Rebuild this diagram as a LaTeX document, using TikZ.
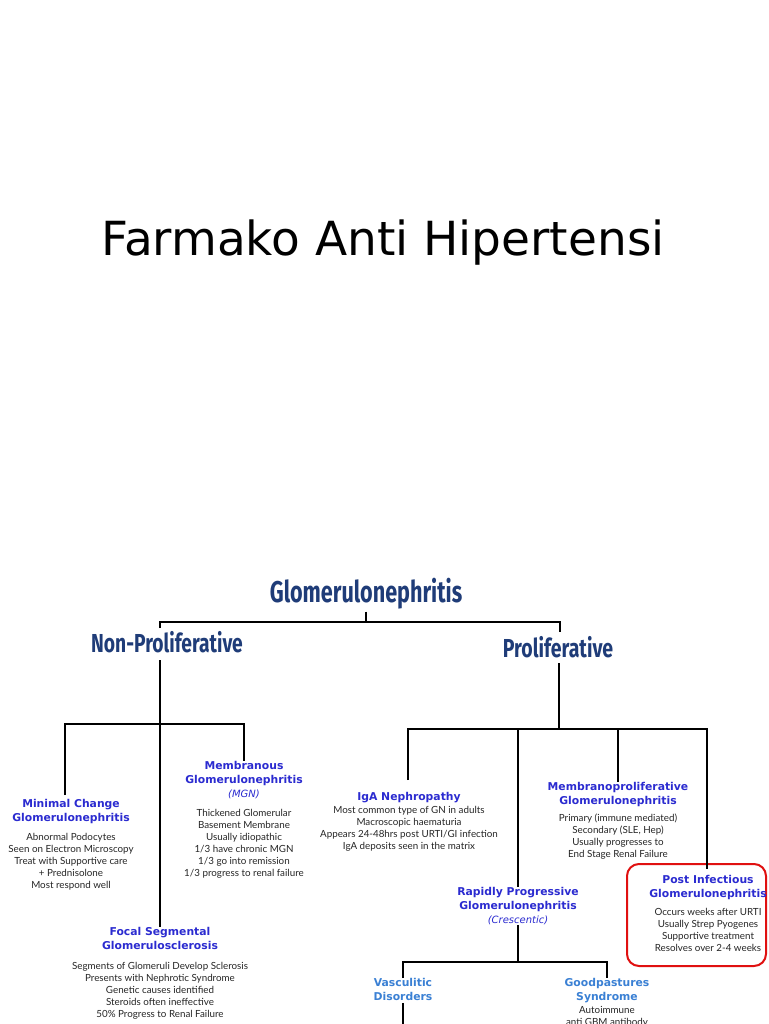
\documentclass[tikz,border=0pt]{standalone}
\usepackage{fontspec}
\setmainfont{Lato}
\newfontfamily\titlefont{DejaVu Sans}
\newfontfamily\headfont{DejaVu Sans}
\newfontfamily\bigfont{Fira Sans}
\usepackage{graphicx}
\definecolor{navy}{HTML}{1F3C78}
\definecolor{hblue}{HTML}{2B2BD0}
\definecolor{lblue}{HTML}{3A80D4}
\definecolor{boxred}{HTML}{E01010}
\begin{document}
\begin{tikzpicture}[x=1pt,y=-1pt,
  big/.style={inner sep=0,text=navy,font=\bigfont\bfseries\fontsize{30}{30}\selectfont},
  mid/.style={inner sep=0,text=navy,font=\bigfont\bfseries\fontsize{26}{26}\selectfont},
  head/.style={inner sep=0,align=center,text=hblue,font=\headfont\bfseries\fontsize{10.8}{14}\selectfont},
  lhead/.style={head,text=lblue},
  body/.style={inner sep=0,align=center,text=black!85,font=\fontsize{9.8}{12}\selectfont},
  link/.style={line width=1.3pt}]
\useasboundingbox (0,0) rectangle (768,1024);
\fill[white] (0,0) rectangle (768,1024);
\node[inner sep=0,font=\titlefont\fontsize{47}{47}\selectfont] (title) at (383,243) {Farmako Anti Hipertensi};

\node[big] (gn) at (366,594) {\scalebox{0.72}[1]{Glomerulonephritis}};
\node[mid] (np) at (167,642) {\scalebox{0.74}[1]{Non-Proliferative}};
\node[mid] (pr) at (558,647) {\scalebox{0.75}[1]{Proliferative}};

\node[head,anchor=north] (mc) at (71,799) {Minimal Change\\Glomerulonephritis};
\node[body,anchor=north] (mcb) at (71,833) {Abnormal Podocytes\\Seen on Electron Microscopy\\Treat with Supportive care\\+ Prednisolone\\Most respond well};
\node[head,anchor=north] (mg) at (244,761) {Membranous\\Glomerulonephritis\\{\mdseries\itshape\fontsize{10}{14}\selectfont (MGN)}};
\node[body,anchor=north] (mgb) at (244,809) {Thickened Glomerular\\Basement Membrane\\Usually idiopathic\\1/3 have chronic MGN\\1/3 go into remission\\1/3 progress to renal failure};
\node[head,anchor=north] (fs) at (160,927) {Focal Segmental\\Glomerulosclerosis};
\node[body,anchor=north] (fsb) at (160,962) {Segments of Glomeruli Develop Sclerosis\\Presents with Nephrotic Syndrome\\Genetic causes identified\\Steroids often ineffective\\50\% Progress to Renal Failure};

\node[head,anchor=north] (iga) at (409,792) {IgA Nephropathy};
\node[body,anchor=north] (igab) at (409,806) {Most common type of GN in adults\\Macroscopic haematuria\\Appears 24-48hrs post URTI/GI infection\\IgA deposits seen in the matrix};
\node[head,anchor=north] (mp) at (618,782) {Membranoproliferative\\Glomerulonephritis};
\node[body,anchor=north] (mpb) at (618,814) {Primary (immune mediated)\\Secondary (SLE, Hep)\\Usually progresses to\\End Stage Renal Failure};
\draw[boxred,line width=2pt,rounded corners=12pt] (627,864) rectangle (766,966);
\node[head,anchor=north] (pi) at (708,875) {Post Infectious\\Glomerulonephritis};
\node[body,anchor=north] (pib) at (708,908) {Occurs weeks after URTI\\Usually Strep Pyogenes\\Supportive treatment\\Resolves over 2-4 weeks};
\node[head,anchor=north] (rp) at (518,887) {Rapidly Progressive\\Glomerulonephritis\\{\mdseries\itshape\fontsize{10}{14}\selectfont (Crescentic)}};
\node[lhead,anchor=north] (va) at (403,978) {Vasculitic\\Disorders};
\node[lhead,anchor=north] (gp) at (607,978) {Goodpastures\\Syndrome};
\node[body,anchor=north] (gpb) at (607,1006) {Autoimmune\\anti GBM antibody};

\draw[link] (gn.south) ++(0,2) -- (366,622);
\draw[link] (160,628) -- (160,622) -- (560,622) -- (560,632);
\draw[link] (160,660) -- (fs.north);
\draw[link] (mc.north -| 65,0) ++(0,-4) -- (65,724) -- (244,724) -- (mg.north);
\draw[link] (559,663) -- (559,729);
\draw[link] (iga.north -| 408,0) ++(0,-12) -- (408,729) -- (707,729) -- (707,869);
\draw[link] (518,729) -- (rp.north);
\draw[link] (618,729) -- (mp.north);
\draw[link] (rp.south) -- (518,962);
\draw[link] (va.north) -- (403,962) -- (607,962) -- (gp.north);
\draw[link] (va.south) ++(0,2) -- (403,1024);
\end{tikzpicture}
\end{document}
